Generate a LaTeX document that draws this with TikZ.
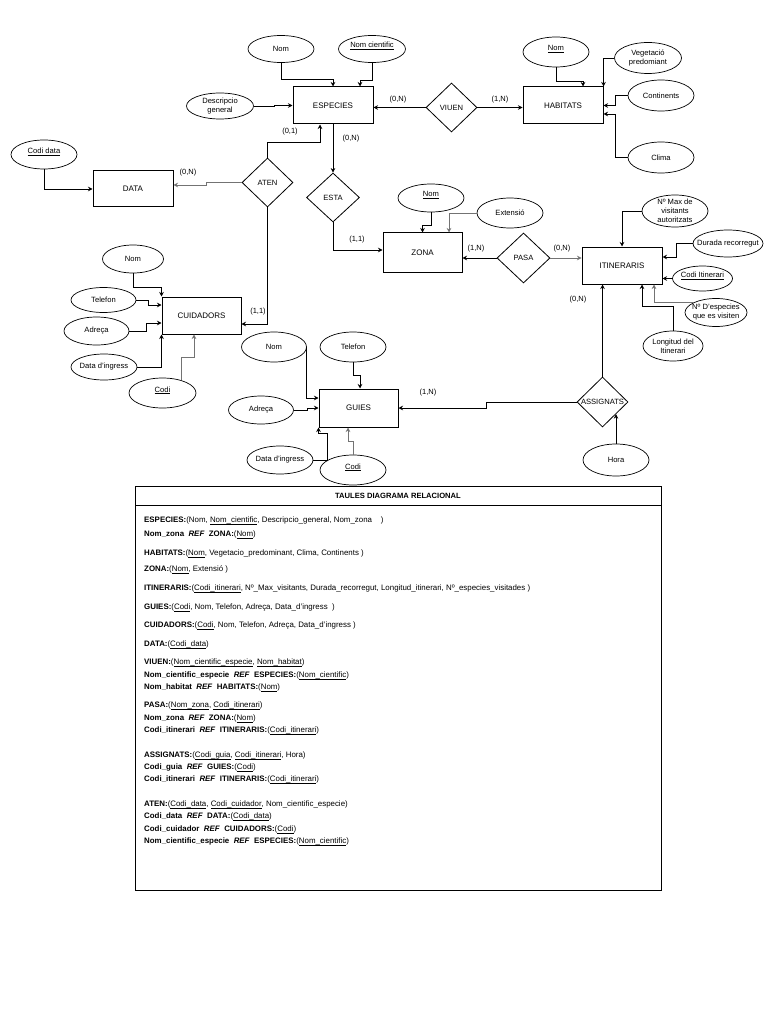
\documentclass[tikz,border=0pt]{standalone}
\usepackage{fontspec}
\setmainfont{Liberation Sans}
\usetikzlibrary{shapes.geometric,arrows.meta}
\newcommand\keyul[1]{\underline{\smash{#1}}}
\begin{document}
\begin{tikzpicture}[x=1pt,y=-1pt,
  ent/.style={draw, line width=1pt, minimum width=80pt, minimum height=37pt, inner sep=0pt, font=\fontsize{8}{9.5}\selectfont},
  attr/.style={draw, ellipse, line width=0.7pt, inner sep=0pt, minimum width=66pt, minimum height=29pt},
  atxt/.style={font=\fontsize{7.6}{9}\selectfont, align=center, inner sep=0pt},
  rel/.style={draw, diamond, line width=0.8pt, inner sep=0pt, minimum width=51pt, minimum height=49pt},
  con/.style={line width=0.95pt, -{Stealth[length=4.5pt,width=4.5pt]}},
  gcon/.style={con, draw=black!55},
  card/.style={font=\fontsize{7.5}{9}\selectfont, inner sep=0pt},
  rowtxt/.style={anchor=west, font=\fontsize{7.9}{9}\selectfont, inner sep=0pt}
]
\useasboundingbox (0,0) rectangle (768,1024);

% ---------- entities ----------
\node[ent] (esp) at (333,105.5) {ESPECIES};
\node[ent] (hab) at (563,105.5) {HABITATS};
\node[ent, minimum width=79pt, minimum height=39pt] (zona) at (422.5,252.5) {ZONA};
\node[ent] (itin) at (622,265.5) {ITINERARIS};
\node[ent, minimum width=79pt, minimum height=38pt] (guies) at (358.5,408) {GUIES};
\node[ent, minimum height=36pt] (data) at (133,189) {DATA};
\node[ent, minimum width=79pt] (cuid) at (201.5,315.5) {CUIDADORS};

% ---------- relationships ----------
\node[rel, label={[atxt]center:VIUEN}] (viuen) at (451.5,107.5) {};
\node[rel, minimum width=53pt, label={[atxt]center:ESTA}] (esta) at (333,197.5) {};
\node[rel, minimum width=53pt, minimum height=50pt, label={[atxt]center:PASA}] (pasa) at (523.5,258) {};
\node[rel, minimum height=50pt, label={[atxt]center:ASSIGNATS}] (asg) at (602.5,402) {};
\node[rel, label={[atxt]center:ATEN}] (aten) at (267.5,182.5) {};

% ---------- attributes ESPECIES ----------
\node[attr, minimum height=27pt, label={[atxt]center:Nom}] (enom) at (281,49) {};
\node[attr, minimum width=67pt, minimum height=27pt, label={[atxt]center:\keyul{Nom cientific}}] (encf) at (372,49) {};
\node[attr, minimum width=67pt, minimum height=26pt, label={[atxt]center:{Descripcio\\general}}] (edesc) at (220,106) {};

% ---------- attributes HABITATS ----------
\node[attr, minimum height=30pt, label={[atxt]center:\keyul{Nom}}] (hnom) at (556,52) {};
\node[attr, minimum width=67pt, minimum height=31pt, label={[atxt]center:{Vegetació\\predomiant}}] (veg) at (648,58) {};
\node[attr, minimum height=31pt, label={[atxt]center:Continents}] (cont) at (661,95.5) {};
\node[attr, minimum height=31pt, label={[atxt]center:Clima}] (clima) at (661,157.5) {};

% ---------- attributes ZONA ----------
\node[attr, minimum height=28pt, label={[atxt]center:\keyul{Nom}}] (znom) at (431,198) {};
\node[attr, minimum height=30pt, label={[atxt]center:Extensió}] (ext) at (510,213) {};

% ---------- attributes ITINERARIS ----------
\node[attr, minimum height=32pt, label={[atxt]center:{Nº Max de\\visitants\\autoritzats}}] (nmax) at (675,211) {};
\node[attr, minimum width=70pt, minimum height=27pt, label={[atxt]center:Durada recorregut}] (dur) at (728,243.5) {};
\node[attr, minimum width=60pt, minimum height=25pt, label={[atxt]center:\keyul{Codi Itinerari}}] (citin) at (702.5,278.5) {};
\node[attr, minimum width=62pt, minimum height=28pt, label={[atxt]center:{Nº D'especies\\que es visiten}}] (nesp) at (716,312.5) {};
\node[attr, minimum width=60pt, minimum height=30pt, label={[atxt]center:{Longitud del\\Itinerari}}] (long) at (673,346) {};
\node[attr, minimum height=32pt, label={[atxt]center:Hora}] (hora) at (616,460) {};

% ---------- attributes GUIES ----------
\node[attr, minimum width=65pt, minimum height=30pt, label={[atxt]center:Nom}] (gnom) at (274,347) {};
\node[attr, minimum height=30pt, label={[atxt]center:Telefon}] (gtel) at (353,347) {};
\node[attr, minimum width=65pt, minimum height=28pt, label={[atxt]center:Adreça}] (gadr) at (261,410) {};
\node[attr, minimum height=28pt, label={[atxt]center:Data d'ingress}] (gdata) at (280,460) {};
\node[attr, minimum height=30pt, label={[atxt]center:\keyul{Codi}}] (gcodi) at (353,470) {};

% ---------- attributes DATA / CUIDADORS ----------
\node[attr, minimum height=29pt, label={[atxt]center:\keyul{Codi data}}] (cdata) at (44,154.5) {};
\node[attr, minimum width=61pt, minimum height=28pt, label={[atxt]center:Nom}] (cnom) at (133,259) {};
\node[attr, minimum width=65pt, minimum height=25pt, label={[atxt]center:Telefon}] (ctel) at (103.5,300) {};
\node[attr, minimum width=65pt, minimum height=28pt, label={[atxt]center:Adreça}] (cadr) at (96.5,331) {};
\node[attr, minimum height=26pt, label={[atxt]center:Data d'ingress}] (cdin) at (104,367) {};
\node[attr, minimum width=67pt, minimum height=30pt, label={[atxt]center:\keyul{Codi}}] (ccodi) at (162.5,393) {};

% ---------- connectors ESPECIES ----------
\draw[con] (enom.south) -- ++(0,17) -| (esp.north);
\draw[con] (encf.south) -- ++(0,18) -| ([xshift=27pt]esp.north);
\draw[con] (edesc.east) -- ++(21,0) |- (esp.west);
\draw[con] (viuen.west) -- (viuen.west -| esp.east);
\draw[con] (viuen.east) -- (viuen.east -| hab.west);
\draw[con] (esp.south) -- (esta.north);
\draw[con] (aten.north) -- ++(0,-15) -| ([xshift=-13pt]esp.south);

% ---------- connectors HABITATS ----------
\draw[con] (hnom.south) -- ++(0,14) -| ([xshift=20pt]hab.north);
\draw[con] (veg.west) -| (hab.north east);
\draw[con] (cont.west) -- ++(-12,0) |- (hab.east);
\draw[con] (clima.west) -- ++(-12,0) |- ([yshift=-8.5pt]hab.east);

% ---------- connectors ZONA ----------
\draw[con] (esta.south) |- ([yshift=2.5pt]zona.west);
\draw[con] (znom.south) -- ++(0,13) -| (zona.north);
\draw[gcon] (ext.west) -| ([xshift=26.5pt]zona.north);
\draw[con] (pasa.west) -- (pasa.west -| zona.east);
\draw[gcon] (pasa.east) -- (pasa.east -| itin.west);

% ---------- connectors ITINERARIS ----------
\draw[con] (nmax.west) -| (itin.north);
\draw[con] (dur.west) -- ++(-16,0) |- ([yshift=8.5pt]itin.east);
\draw[con] (citin.west) -- (citin.west -| itin.east);
\draw[gcon] (nesp.155) -| ([xshift=32pt]itin.south);
\draw[con] (long.north) -- ++(0,-24) -| ([xshift=20pt]itin.south);
\draw[con] (asg.north) -- (asg.north |- itin.south);
\draw[con] (hora.north) -- (hora.north |- asg.-42);

% ---------- connectors GUIES ----------
\draw[con] (asg.west) -- ++(-90,0) |- (guies.east);
\draw[con] (gnom.east) |- ([yshift=10pt]guies.west);
\draw[con] (gtel.south) -- ++(0,13) -| ([xshift=1.5pt]guies.north);
\draw[con] (gadr.east) -- ++(14,0) |- (guies.west);
\draw[con] (gdata.east) -- ++(14,0) |- ([yshift=-6pt]guies.south west) -- (guies.south west);
\draw[gcon] (gcodi.north) -- ++(0,-13) -| ([xshift=-10.5pt]guies.south);

% ---------- connectors DATA / CUIDADORS ----------
\draw[con] (cdata.south) |- (data.west);
\draw[gcon] (aten.west) -- ++(-35,0) |- ([yshift=4pt]data.east);
\draw[con] (aten.south) |- ([yshift=-8.5pt]cuid.east);
\draw[con] (cnom.south) -- ++(0,14) -| (cuid.north west);
\draw[con] (ctel.east) -- ++(12,0) |- ([yshift=10.5pt]cuid.west);
\draw[con] (cadr.east) -- ++(17,0) |- ([yshift=-7.5pt]cuid.west);
\draw[con] (cdin.east) -| (cuid.south west);
\draw[gcon] (ccodi.33) -- ++(0,-23) -| ([xshift=-7.5pt]cuid.south);

% ---------- cardinalities ----------
\node[card] (c1) at (398,100) {(0,N)};
\node[card] (c2) at (500,100) {(1,N)};
\node[card] (c3) at (351,139) {(0,N)};
\node[card] (c4) at (290,132) {(0,1)};
\node[card] (c5) at (188,173) {(0,N)};
\node[card] (c6) at (258,312) {(1,1)};
\node[card] (c7) at (357,240) {(1,1)};
\node[card] (c8) at (476,249) {(1,N)};
\node[card] (c9) at (562,249) {(0,N)};
\node[card] (c10) at (578,300) {(0,N)};
\node[card] (c11) at (428,393) {(1,N)};

% ---------- relational table ----------
\node[draw, line width=1pt, minimum width=526pt, minimum height=404pt, anchor=north west, inner sep=0pt] (tbl) at (135,486) {};
\draw[line width=0.9pt] (tbl.west |- 0,505) -- (tbl.east |- 0,505);
\node[font=\fontsize{7.6}{9}\selectfont\bfseries, inner sep=0pt] (thead) at (398,495.5) {TAULES DIAGRAMA RELACIONAL};

\node[rowtxt] (t1) at (144,521) {\textbf{ESPECIES:}(Nom, \keyul{Nom\_cientific}, Descripcio\_general, Nom\_zona \ \ \ )};
\node[rowtxt] (t2) at (144,535) {\textbf{Nom\_zona \ \textit{REF} \ ZONA:}(\keyul{Nom})};
\node[rowtxt] (t3) at (144,554) {\textbf{HABITATS:}(\keyul{Nom}, Vegetacio\_predominant, Clima, Continents )};
\node[rowtxt] (t4) at (144,570) {\textbf{ZONA:}(\keyul{Nom}, Extensió )};
\node[rowtxt] (t5) at (144,589) {\textbf{ITINERARIS:}(\keyul{Codi\_itinerari}, Nº\_Max\_visitants, Durada\_recorregut, Longitud\_itinerari, Nº\_especies\_visitades )};
\node[rowtxt] (t6) at (144,608) {\textbf{GUIES:}(\keyul{Codi}, Nom, Telefon, Adreça, Data\_d'ingress \ )};
\node[rowtxt] (t7) at (144,626) {\textbf{CUIDADORS:}(\keyul{Codi}, Nom, Telefon, Adreça, Data\_d'ingress )};
\node[rowtxt] (t8) at (144,645) {\textbf{DATA:}(\keyul{Codi\_data})};
\node[rowtxt] (t9) at (144,663) {\textbf{VIUEN:}(\keyul{Nom\_cientific\_especie}, \keyul{Nom\_habitat})};
\node[rowtxt] (t10) at (144,676) {\textbf{Nom\_cientific\_especie \ \textit{REF} \ ESPECIES:}(\keyul{Nom\_cientific})};
\node[rowtxt] (t11) at (144,688) {\textbf{Nom\_habitat \ \textit{REF} \ HABITATS:}(\keyul{Nom})};
\node[rowtxt] (t12) at (144,706) {\textbf{PASA:}(\keyul{Nom\_zona}, \keyul{Codi\_itinerari})};
\node[rowtxt] (t13) at (144,719) {\textbf{Nom\_zona \ \textit{REF} \ ZONA:}(\keyul{Nom})};
\node[rowtxt] (t14) at (144,731) {\textbf{Codi\_itinerari \ \textit{REF} \ ITINERARIS:}(\keyul{Codi\_itinerari})};
\node[rowtxt] (t15) at (144,756) {\textbf{ASSIGNATS:}(\keyul{Codi\_guia}, \keyul{Codi\_itinerari}, Hora)};
\node[rowtxt] (t16) at (144,768) {\textbf{Codi\_guia \ \textit{REF} \ GUIES:}(\keyul{Codi})};
\node[rowtxt] (t17) at (144,780) {\textbf{Codi\_itinerari \ \textit{REF} \ ITINERARIS:}(\keyul{Codi\_itinerari})};
\node[rowtxt] (t18) at (144,805) {\textbf{ATEN:}(\keyul{Codi\_data}, \keyul{Codi\_cuidador}, Nom\_cientific\_especie)};
\node[rowtxt] (t19) at (144,817) {\textbf{Codi\_data \ \textit{REF} \ DATA:}(\keyul{Codi\_data})};
\node[rowtxt] (t20) at (144,830) {\textbf{Codi\_cuidador \ \textit{REF} \ CUIDADORS:}(\keyul{Codi})};
\node[rowtxt] (t21) at (144,842) {\textbf{Nom\_cientific\_especie \ \textit{REF} \ ESPECIES:}(\keyul{Nom\_cientific})};
\end{tikzpicture}
\end{document}
